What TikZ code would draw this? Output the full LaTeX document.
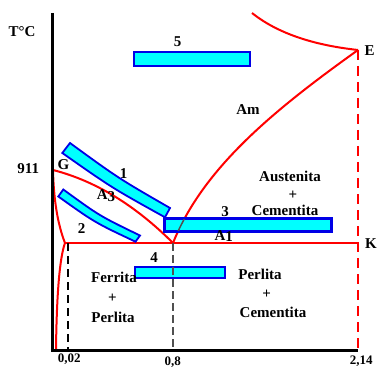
\documentclass[tikz,border=0pt]{standalone}
\usepackage{fontspec}
\setmainfont{Liberation Serif}
\definecolor{bandfill}{RGB}{0,255,255}
\definecolor{bandline}{RGB}{0,0,230}
\definecolor{darkgray}{RGB}{80,80,80}
\begin{document}
\begin{tikzpicture}[x=1pt,y=-1pt,
  lbl/.style={font=\bfseries\fontsize{15}{18}\selectfont, inner sep=0pt, text height=10pt, text depth=0pt},
  tick/.style={font=\bfseries\fontsize{13}{15}\selectfont, inner sep=0pt, text height=8.6pt, text depth=0pt},
  phase/.style={red, line width=2pt},
  band/.style={fill=bandfill, draw=bandline, line width=1.8pt},
  rectband/.style={band, inner sep=0pt, rectangle},
  axisline/.style={black, line width=3pt},
  reddash/.style={red, line width=1.5pt, dash pattern=on 10pt off 6pt},
  blackdash/.style={black, line width=1.2pt, dash pattern=on 8pt off 5pt},
  graydash/.style={darkgray, line width=1.2pt, dash pattern=on 8pt off 4pt},
]
\useasboundingbox (0,0) rectangle (382,387);
% key points
\coordinate (G) at (53,170);
\coordinate (P) at (65,243);
\coordinate (Q) at (56,349);
\coordinate (S) at (173,243);
\coordinate (E) at (358,50);
\coordinate (K) at (358,243);
\coordinate (L) at (252,13);
\coordinate (Ebot) at (358,350);
\coordinate (Ptop) at (68,243);
\coordinate (Pbot) at (68,350);
\coordinate (Sbot) at (173,350);
\coordinate (O) at (52,350);
\coordinate (Ytop) at (52,13);
\coordinate (Xend) at (358,350);

% phase lines
\draw[phase] (G) .. controls (96,181) and (136,206) .. (S);
\draw[phase] (G) .. controls (53.7,200) and (57.7,224.3) .. (P);
\draw[phase] (P) .. controls (59.7,257.7) and (56.7,293.3) .. (Q);
\draw[phase] (P) -- (K);
\draw[phase] (S) .. controls (203,168) and (274,110) .. (E);
\draw[phase] (L) .. controls (276.7,32.7) and (312,45) .. (E);
\draw[reddash] (E) -- (Ebot);
\draw[blackdash] (Ptop) -- (Pbot);

% bands
\draw[band] (70,143) .. controls (118.3,178.2) .. (170,208) -- (165,217.3) .. controls (112,187.9) .. (62.3,153) -- cycle;
\draw[band] (63.3,189.5) .. controls (99.7,216) .. (140,235.5) -- (135.5,241.7) .. controls (94.9,222.6) .. (58.3,196.5) -- cycle;
\node[rectband, minimum width=116pt, minimum height=14pt] (r5) at (192,59) {};
\node[rectband, minimum width=166pt, minimum height=12pt] (r3) at (248,225) {};
\node[rectband, minimum width=90pt, minimum height=11pt] (r4) at (180,272.5) {};
\begin{scope}
  \clip (r3.south west) rectangle (r3.north east);
  \draw[darkgray, line width=1.5pt] (S) .. controls (203,168) and (274,110) .. (E);
\end{scope}
\draw[bandline, line width=1.8pt] (r3.south west) rectangle (r3.north east);
\draw[graydash] (S) -- (Sbot);

% axes
\draw[axisline] (Ytop) -- (52,351.5);
\draw[axisline] (50.5,350) -- (Xend);

% labels
\node[lbl] (tc) at (22,32) {T°C};
\node[lbl] (t911) at (28.3,168.5) {911};
\node[lbl] (lG) at (63.5,164.5) {G};
\node[lbl] (l1) at (123.5,173.3) {1};
\node[lbl] (lA3) at (106,194.7) {A\raisebox{-1.5pt}{3}};
\node[lbl] (l2) at (81.7,228.3) {2};
\node[lbl] (l3) at (225,211) {3};
\node[lbl] (lA1) at (223.7,235.3) {A\raisebox{-1pt}{1}};
\node[lbl] (lK) at (371,243) {K};
\node[lbl] (lE) at (369.5,51) {E};
\node[lbl] (lAm) at (248,109.7) {Am};
\node[lbl] (l5) at (177.5,41.7) {5};
\node[lbl] (l4) at (154,257.7) {4};
\node[lbl] (aus) at (290,176) {Austenita};
\node[lbl] (plus1) at (293,194) {+};
\node[lbl] (cem1) at (285,210) {Cementita};
\node[lbl] (fer) at (114,277.5) {Ferrita};
\node[lbl] (plus2) at (112.5,297.5) {+};
\node[lbl] (per1) at (113,317) {Perlita};
\node[lbl] (per2) at (260,274.5) {Perlita};
\node[lbl] (plus3) at (266.7,293.5) {+};
\node[lbl] (cem2) at (273,312.5) {Cementita};
\node[tick] (x1) at (69.3,358) {0,02};
\node[tick] (x2) at (172.7,361) {0,8};
\node[tick] (x3) at (361.3,360) {2,14};
\end{tikzpicture}
\end{document}
